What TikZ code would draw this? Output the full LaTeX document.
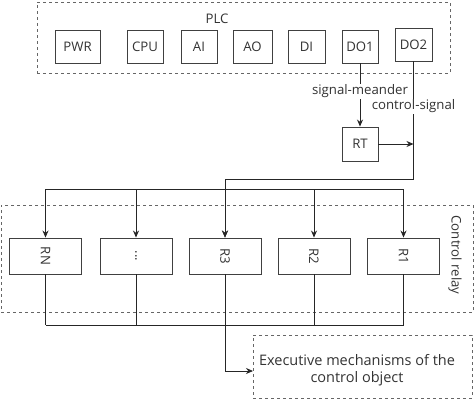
\documentclass[tikz,border=0pt]{standalone}
\usepackage{fontspec}
\setmainfont{Open Sans}
\usetikzlibrary{arrows.meta}
\begin{document}
\begin{tikzpicture}[x=1pt,y=-1pt,
  txt/.style={text=black!80,font=\fontsize{13.2}{16}\selectfont},
  box/.style={draw=black!75,line width=0.9pt,txt,inner sep=0pt,minimum height=33pt},
  relay/.style={box,minimum width=72pt,minimum height=36pt},
  group/.style={draw=black!60,dashed,line width=0.8pt,inner sep=0pt},
  wire/.style={draw=black!85,line width=0.8pt},
  arr/.style={wire,-{Stealth[length=7pt,width=6pt]}},
  lbl/.style={txt,fill=white,inner sep=1pt}]
\useasboundingbox (0,0) rectangle (474,400);
% groups
\node[group,minimum width=413pt,minimum height=71pt] (plc) at (243.5,37.5) {};
\node[txt] (plclbl) at (217,19) {PLC};
\node[group,minimum width=472pt,minimum height=107pt] (crg) at (237,258.5) {};
\node[txt,rotate=-90] (crlbl) at (455,255) {Control relay};
\node[group,minimum width=219pt,minimum height=63pt] (exec) at (362.5,366.5) {};
\node[txt,align=center,font=\fontsize{14.5}{17}\selectfont] (exectxt) at (357,370) {Executive mechanisms of the\\control object};
% modules
\node[box,minimum width=45pt] (pwr) at (77.5,46.5) {PWR};
\node[box,minimum width=36pt] (cpu) at (145,46.5) {CPU};
\node[box,minimum width=36pt] (ai) at (199,46.5) {AI};
\node[box,minimum width=39pt] (ao) at (252.5,46.5) {AO};
\node[box,minimum width=37pt] (di) at (306.5,46.5) {DI};
\node[box,minimum width=36pt] (do1) at (360,46.5) {DO1};
\node[box,minimum width=37pt] (do2) at (413.5,44.5) {DO2};
\node[box,minimum width=36pt,minimum height=34pt] (rt) at (360,144) {RT};
% relays
\node[relay] (rn) at (45.5,256) {\rotatebox{-90}{RN}};
\node[relay] (rd) at (136,256) {\rotatebox{-90}{...}};
\node[relay] (r3) at (225,256) {\rotatebox{-90}{R3}};
\node[relay] (r2) at (314,256) {\rotatebox{-90}{R2}};
\node[relay] (r1) at (403.5,256) {\rotatebox{-90}{R1}};
% coordinates
\coordinate (rtj) at (413.5,144);
\coordinate (c1) at (413.5,179);
\coordinate (c2) at (225,179);
\coordinate (dl) at (45.5,189);
\coordinate (dr) at (403.5,189);
\coordinate (bl) at (45.5,325);
\coordinate (br) at (403.5,325);
\coordinate (ex1) at (225,371);
\coordinate (ex2) at (253,371);
% connectors
\draw[arr] (do1.south) -- node[lbl,pos=0.44] {signal-meander} (rt.north);
\draw[wire] (do2.south) -- node[lbl,pos=0.38] {control-signal} (c1) -- (c2);
\draw[arr] (c2) -- (r3.north);
\draw[arr] (rt.east) -- (rtj);
\draw[wire] (dl) -- (dr);
\foreach \r in {rn,rd,r3,r2,r1}{
  \draw[arr] (dl -| \r.north) -- (\r.north);
  \draw[wire] (\r.south) -- (bl -| \r.south);
}
\draw[wire] (bl) -- (br);
\draw[wire] (r3.south) -- (ex1);
\draw[arr] (ex1) -- (ex2);
\end{tikzpicture}
\end{document}
